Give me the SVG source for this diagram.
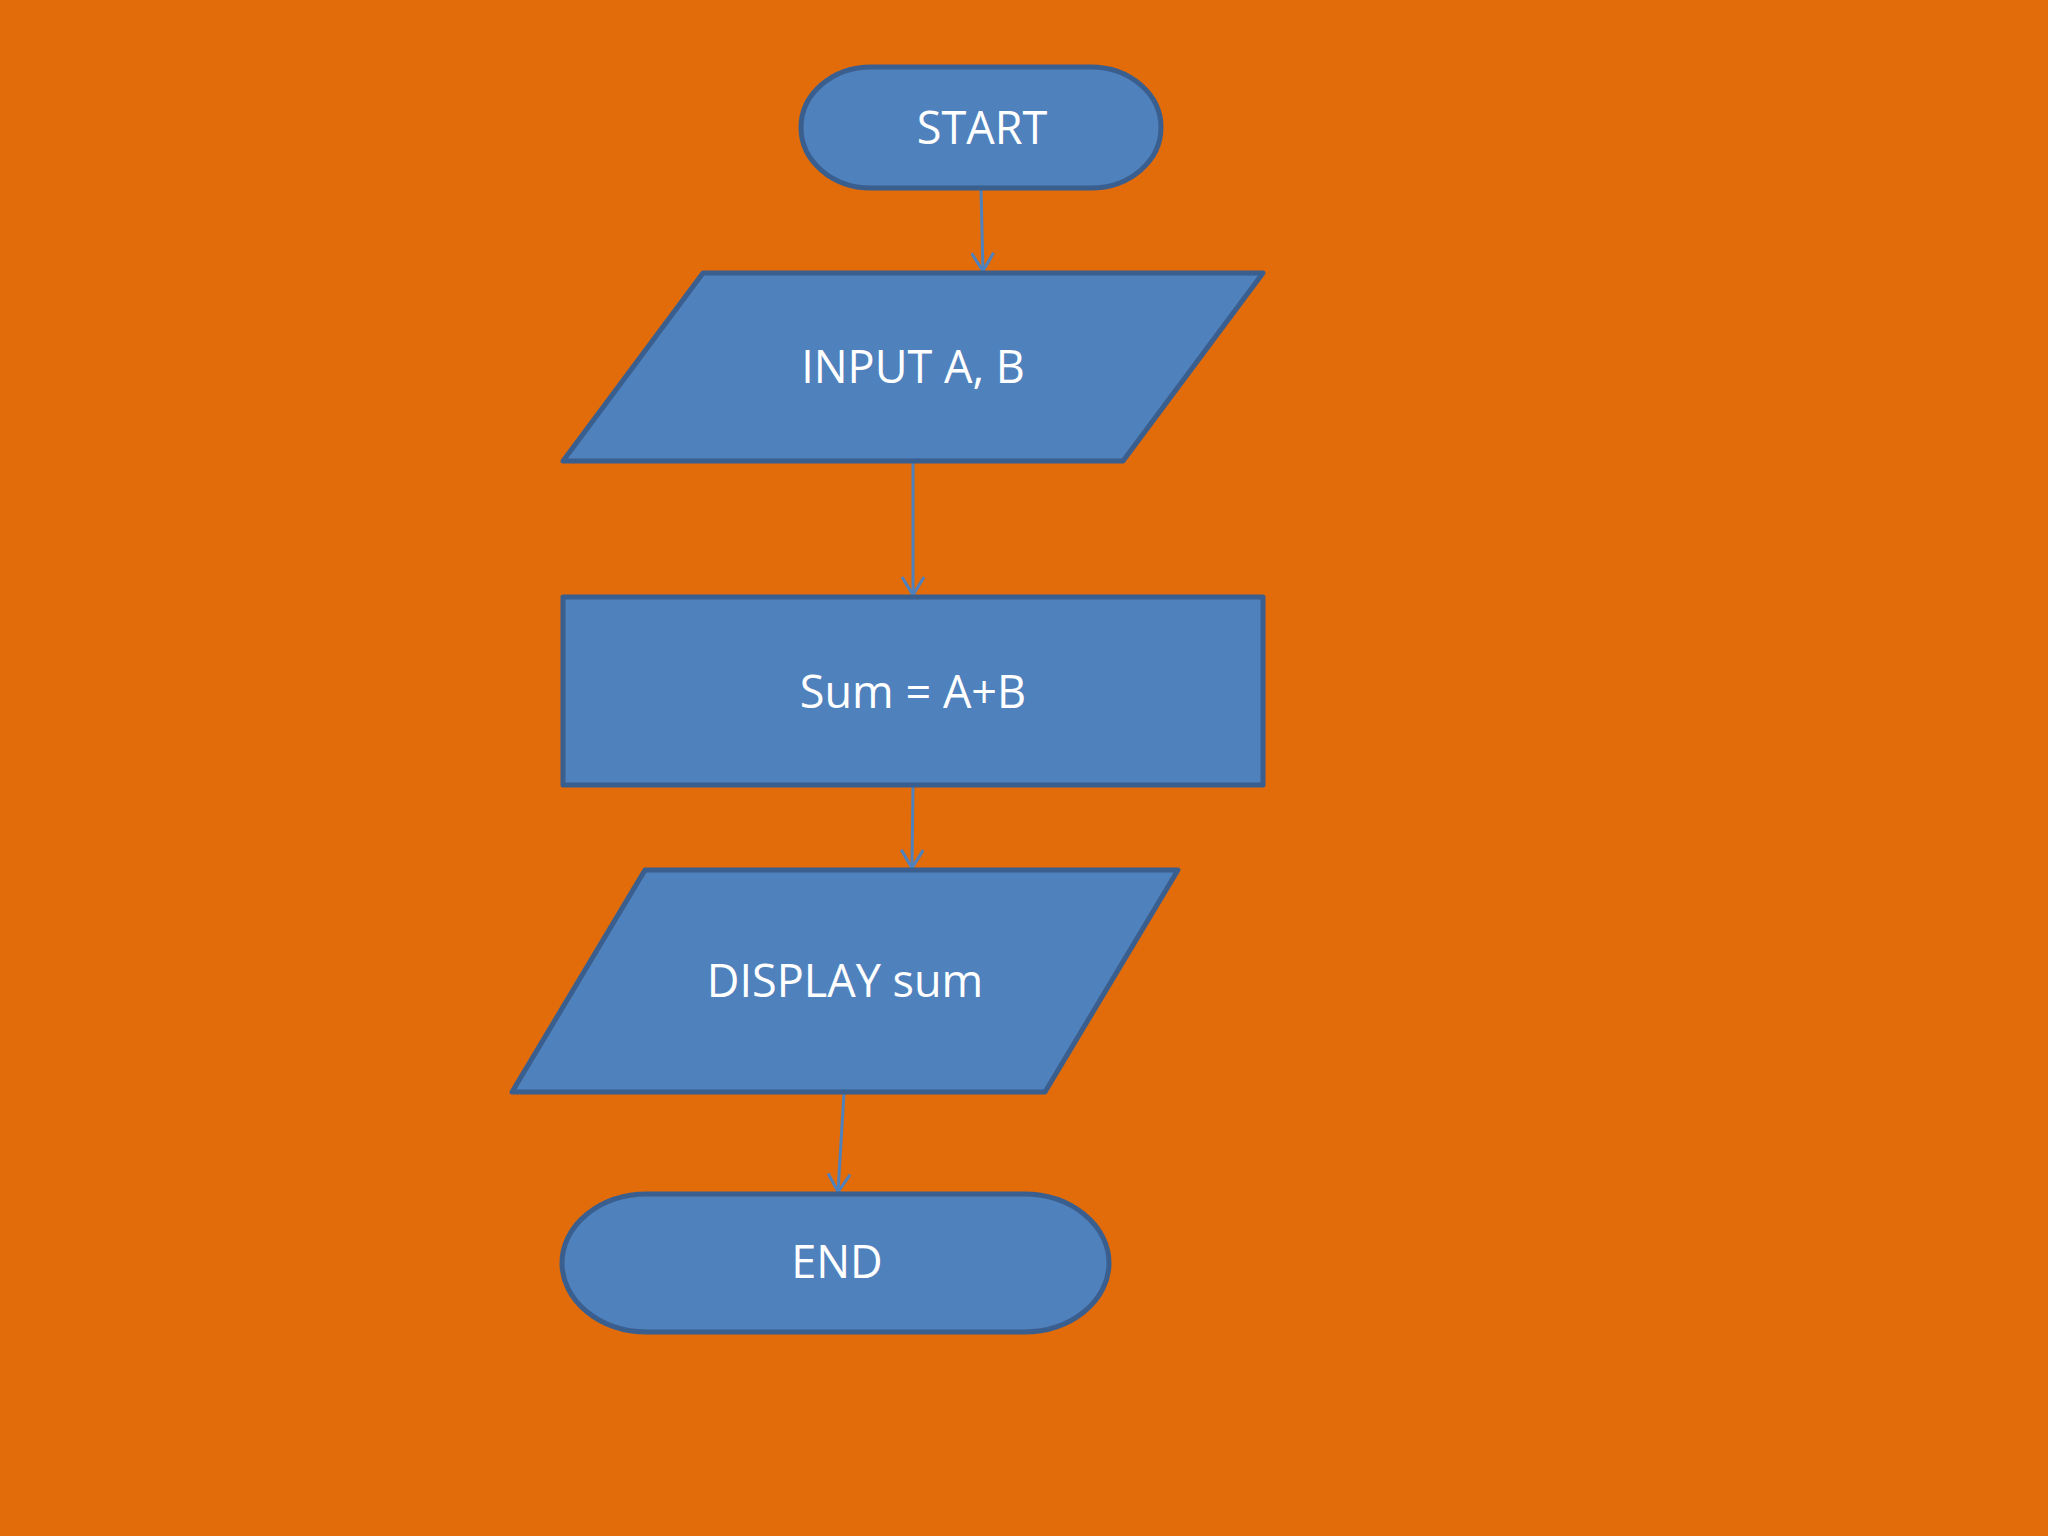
<svg xmlns="http://www.w3.org/2000/svg" width="2048" height="1536" viewBox="0 0 2048 1536">
<defs>
<style>
.shape{fill:#4F81BD;stroke:#3A5F8E;stroke-width:5;stroke-linejoin:round}
.lbl{font-family:"Open Sans","Noto Sans",sans-serif;font-size:45px;fill:#FFFFFF;text-anchor:middle}
.conn{stroke:#4F81BD;stroke-width:3;fill:none}
</style>
<marker id="arr" viewBox="0 0 24 24" refX="21" refY="12" markerWidth="24" markerHeight="24" markerUnits="userSpaceOnUse" orient="auto">
<path d="M3,1 L21,12 L3,23" fill="none" stroke="#4F81BD" stroke-width="3"/>
</marker>
</defs>
<rect width="2048" height="1536" fill="#E36C0A"/>
<g id="connectors">
<line class="conn" x1="981" y1="189" x2="983" y2="271" marker-end="url(#arr)"/>
<line class="conn" x1="913" y1="461" x2="913" y2="595" marker-end="url(#arr)"/>
<line class="conn" x1="913" y1="785" x2="912" y2="868" marker-end="url(#arr)"/>
<line class="conn" x1="844" y1="1093" x2="838" y2="1192" marker-end="url(#arr)"/>
</g>
<g id="start">
<rect class="shape" x="801" y="67" width="360" height="121" rx="70" ry="60.5"/>
<text class="lbl" x="982" y="144">START</text>
</g>
<g id="input">
<polygon class="shape" points="703,273 1263,273 1123,461 563,461"/>
<text class="lbl" x="913" y="383">INPUT A, B</text>
</g>
<g id="process">
<rect class="shape" x="563" y="597" width="700" height="188"/>
<text class="lbl" x="913" y="708">Sum = A+B</text>
</g>
<g id="display">
<polygon class="shape" points="645,870 1178,870 1045,1092 512,1092"/>
<text class="lbl" x="845" y="997">DISPLAY sum</text>
</g>
<g id="end">
<rect class="shape" x="562" y="1194" width="547" height="138" rx="85" ry="69"/>
<text class="lbl" x="837" y="1278">END</text>
</g>
</svg>
